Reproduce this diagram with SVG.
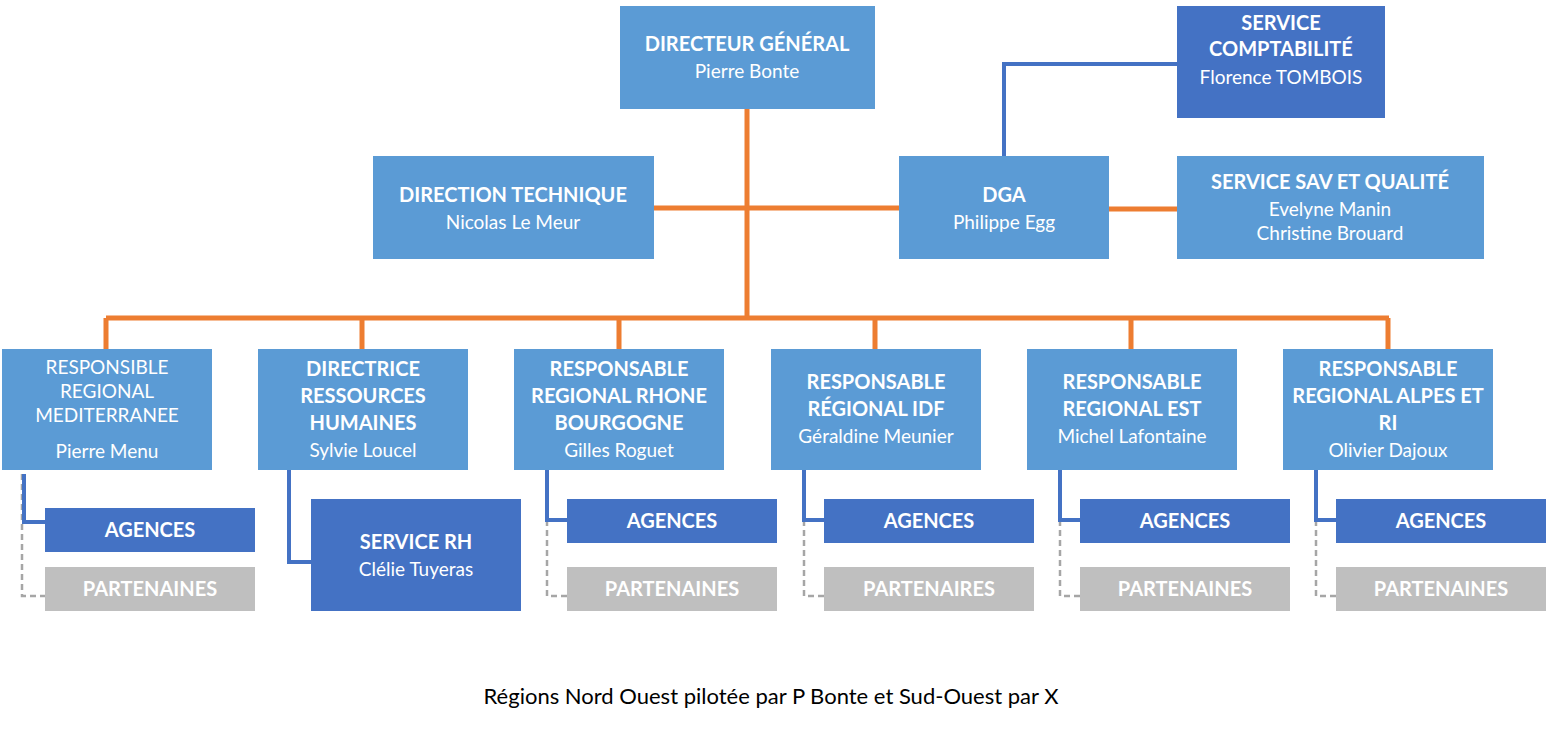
<svg xmlns="http://www.w3.org/2000/svg" width="1548" height="731" viewBox="0 0 1548 731">
<style>
text{font-family:Lato,"Liberation Sans",sans-serif;fill:#fff;text-anchor:middle;font-size:19px}
.b{font-weight:bold;font-size:20px}
.l{fill:#5B9BD5}.d{fill:#4472C4}.g{fill:#BFBFBF}
.o{stroke:#ED7D31;stroke-width:5;fill:none}
.u{stroke:#4472C4;stroke-width:4;fill:none}
.s{stroke:#A6A6A6;stroke-width:2.5;stroke-dasharray:6 4;fill:none}
.cap{fill:#000;font-size:22px}
</style>
<rect width="1548" height="731" fill="#fff"/>
<g id="connectors">
<path class="o" d="M747 109V318M654 208H899M1109 209H1177M106 318H1389M106 318V349M362 318V349M619 318V349M875 318V349M1131 318V349M1388 318V349"/>
<path class="u" d="M1004 156V64H1177"/>
<path class="s" d="M22 474V596H45M547 470V596H567M804 470V596H824M1060 470V596H1080M1316 470V596H1336"/>
<path class="u" d="M24 474V522H45M547 470V520H567M804 470V520H824M1060 470V520H1080M1316 470V520H1336M289 470V562H311"/>
</g>
<g id="dg"><rect class="l" x="620" y="6" width="255" height="103"/><text class="b" x="747" y="51">DIRECTEUR GÉNÉRAL</text><text x="747" y="78">Pierre Bonte</text></g>
<g id="dt"><rect class="l" x="373" y="156" width="281" height="103"/><text class="b" x="513" y="202">DIRECTION TECHNIQUE</text><text x="513" y="229">Nicolas Le Meur</text></g>
<g id="dga"><rect class="l" x="899" y="156" width="210" height="103"/><text class="b" x="1004" y="202">DGA</text><text x="1004" y="229">Philippe Egg</text></g>
<g id="compta"><rect class="d" x="1177" y="6" width="208" height="112"/><text class="b" x="1281" y="30">SERVICE</text><text class="b" x="1281" y="56">COMPTABILITÉ</text><text x="1281" y="84">Florence TOMBOIS</text></g>
<g id="sav"><rect class="l" x="1177" y="156" width="307" height="103"/><text class="b" x="1330" y="189">SERVICE SAV ET QUALITÉ</text><text x="1330" y="216">Evelyne Manin</text><text x="1330" y="240">Christine Brouard</text></g>
<g id="med"><rect class="l" x="2" y="349" width="210" height="121"/><text x="107" y="374">RESPONSIBLE</text><text x="107" y="398">REGIONAL</text><text x="107" y="422">MEDITERRANEE</text><text x="107" y="458">Pierre Menu</text></g>
<g id="drh"><rect class="l" x="258" y="349" width="210" height="121"/><text class="b" x="363" y="376">DIRECTRICE</text><text class="b" x="363" y="403">RESSOURCES</text><text class="b" x="363" y="430">HUMAINES</text><text x="363" y="457">Sylvie Loucel</text></g>
<g id="rhone"><rect class="l" x="514" y="349" width="210" height="121"/><text class="b" x="619" y="376">RESPONSABLE</text><text class="b" x="619" y="403">REGIONAL RHONE</text><text class="b" x="619" y="430">BOURGOGNE</text><text x="619" y="457">Gilles Roguet</text></g>
<g id="idf"><rect class="l" x="771" y="349" width="210" height="121"/><text class="b" x="876" y="389">RESPONSABLE</text><text class="b" x="876" y="416">RÉGIONAL IDF</text><text x="876" y="443">Géraldine Meunier</text></g>
<g id="est"><rect class="l" x="1027" y="349" width="210" height="121"/><text class="b" x="1132" y="389">RESPONSABLE</text><text class="b" x="1132" y="416">REGIONAL EST</text><text x="1132" y="443">Michel Lafontaine</text></g>
<g id="alpes"><rect class="l" x="1283" y="349" width="210" height="121"/><text class="b" x="1388" y="376">RESPONSABLE</text><text class="b" x="1388" y="403">REGIONAL ALPES ET</text><text class="b" x="1388" y="430">RI</text><text x="1388" y="457">Olivier Dajoux</text></g>
<g id="srh"><rect class="d" x="311" y="499" width="210" height="112"/><text class="b" x="416" y="549">SERVICE RH</text><text x="416" y="576">Clélie Tuyeras</text></g>
<g id="ag1"><rect class="d" x="45" y="508" width="210" height="44"/><text class="b" x="150" y="537">AGENCES</text></g>
<g id="ag3"><rect class="d" x="567" y="499" width="210" height="44"/><text class="b" x="672" y="528">AGENCES</text></g>
<g id="ag4"><rect class="d" x="824" y="499" width="210" height="44"/><text class="b" x="929" y="528">AGENCES</text></g>
<g id="ag5"><rect class="d" x="1080" y="499" width="210" height="44"/><text class="b" x="1185" y="528">AGENCES</text></g>
<g id="ag6"><rect class="d" x="1336" y="499" width="210" height="44"/><text class="b" x="1441" y="528">AGENCES</text></g>
<g id="pa1"><rect class="g" x="45" y="567" width="210" height="44"/><text class="b" x="150" y="596">PARTENAINES</text></g>
<g id="pa3"><rect class="g" x="567" y="567" width="210" height="44"/><text class="b" x="672" y="596">PARTENAINES</text></g>
<g id="pa4"><rect class="g" x="824" y="567" width="210" height="44"/><text class="b" x="929" y="596">PARTENAIRES</text></g>
<g id="pa5"><rect class="g" x="1080" y="567" width="210" height="44"/><text class="b" x="1185" y="596">PARTENAINES</text></g>
<g id="pa6"><rect class="g" x="1336" y="567" width="210" height="44"/><text class="b" x="1441" y="596">PARTENAINES</text></g>
<text class="cap" x="771" y="704">Régions Nord Ouest pilotée par P Bonte et Sud-Ouest par X</text>
</svg>
